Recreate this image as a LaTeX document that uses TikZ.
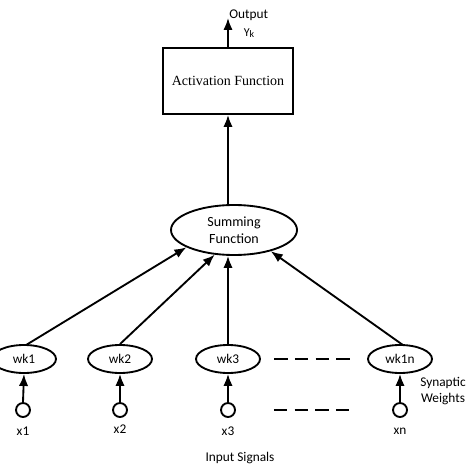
\documentclass[tikz,border=0pt]{standalone}
\usepackage{fontspec}
\setmainfont{Liberation Serif}
\setsansfont{Carlito}
\usetikzlibrary{shapes.geometric, arrows.meta}

\begin{document}
\begin{tikzpicture}[x=0.75pt, y=-0.75pt,
                actbox/.style={draw=black, line width=1.4pt, rectangle, minimum width=97.5pt, minimum height=49.5pt, font=\rmfamily\fontsize{10.5}{12}\selectfont},
                sumell/.style={draw=black, line width=1.4pt, ellipse, minimum width=94.5pt, minimum height=37.5pt, inner sep=0pt, align=center, font=\sffamily\fontsize{10.5}{12.5}\selectfont},
                weight/.style={draw=black, line width=1.4pt, ellipse, minimum width=48pt, minimum height=21pt, inner sep=0pt, font=\sffamily\fontsize{10}{12}\selectfont},
                inp/.style={draw=black, line width=1.4pt, circle, minimum size=10.5pt, inner sep=0pt},
                edge/.style={line width=1.4pt},
                arr/.style={edge, -{Latex[length=9pt, width=7pt]}},
                gap/.style={edge, dash pattern=on 10pt off 5.5pt},
                varlabel/.style={font=\sffamily\fontsize{10}{12}\selectfont, inner sep=0pt, align=center}
            ]
            \useasboundingbox (0,0) rectangle (474,474);

            % Knoten
            \node[actbox] (act) at (228,81) {Activation Function};
            \node[sumell] (sum) at (234,230) {Summing\\Function};

            \node[weight] (wk1) at (24,359) {wk1};
            \node[weight] (wk2) at (120,359) {wk2};
            \node[weight] (wk3) at (228,359) {wk3};
            \node[weight] (wk1n) at (400,359) {wk1n};

            \node[inp] (x1) at (23,410) {};
            \node[inp] (x2) at (120,410) {};
            \node[inp] (x3) at (228,410) {};
            \node[inp] (xn) at (400,410) {};

            \coordinate (out) at (228,18);

            % Beschriftungen
            \node[varlabel, anchor=west] (outlab) at (229,15) {Output};
            \node[varlabel, font=\sffamily\fontsize{9}{10}\selectfont] (yk) at (249,33) {Y\raisebox{-0.5pt}{\fontsize{7.5}{8}\selectfont k}};
            \node[varlabel] (lx1) at (23,431) {x1};
            \node[varlabel] (lx2) at (120,429) {x2};
            \node[varlabel] (lx3) at (228,431) {x3};
            \node[varlabel] (lxn) at (400,431) {xn};
            \node[varlabel] (syn) at (443,391) {Synaptic\\Weights};
            \node[varlabel] (insig) at (240,458) {Input Signals};

            % Kanten zwischen Knoten
            \draw[arr] (act.north) -- (out);
            \draw[arr] (act.south |- sum.north) -- (act.south);

            \draw[arr] (wk1.north) ++(2,1) -- (sum.200);
            \draw[arr] (wk2.north) -- (sum.232);
            \draw[arr] (wk3.north) -- (wk3.north |- sum.south);
            \draw[arr] (wk1n.north) ++(3,1) -- (sum.330);

            \draw[arr] (x1.north) -- (wk1.south);
            \draw[arr] (x2.north) -- (wk2.south);
            \draw[arr] (x3.north) -- (wk3.south);
            \draw[arr] (xn.north) -- (wk1n.south);

            \draw[gap, shorten <=10pt, shorten >=12pt] (wk3.east) -- (wk1n.west);
            \draw[gap, shorten <=28.5pt, shorten >=31pt] (x3.east) -- (xn.west);

        \end{tikzpicture}
\end{document}
